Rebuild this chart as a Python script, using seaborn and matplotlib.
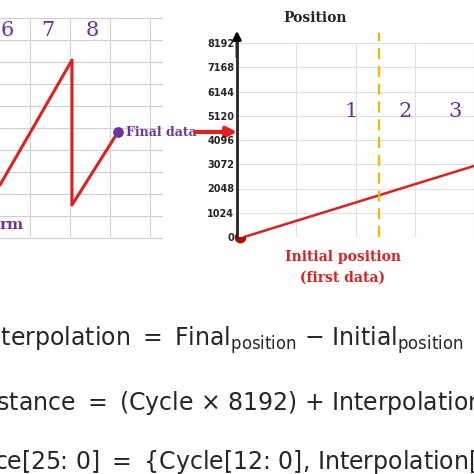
import matplotlib
matplotlib.use("Agg")
import matplotlib.pyplot as plt
import seaborn as sns
import numpy as np

sns.set_style("white")
plt.rcParams['font.family'] = ['DejaVu Serif']

# left sawtooth (pixel coords)
saw_x = [0, 72, 72, 118]
saw_y = [185, 60, 205, 132]
cycle_labels = ["6", "7", "8"]
cycle_x = [7, 48, 92]
# right chart
yticks = [0, 1024, 2048, 3072, 4096, 5120, 6144, 7168, 8192]
pos_x = [0.3, 10]
pos_y = [0, 3000]
region_labels = ["1", "2", "3"]
region_x = [4.8, 7.1, 9.2]

W = 474
fig = plt.figure(figsize=(4.74, 4.74), dpi=100)
ax = fig.add_axes([0, 0, 1, 1])
ax.set_xlim(0, W); ax.set_ylim(W, 0); ax.axis("off")

purple = "#7030A0"; red = "#E02020"
for gx in np.arange(-10, 170, 40):
    ax.plot([gx, gx], [18, 236], color="#d0d0d0", lw=0.8)
for gy in np.arange(18, 240, 22):
    ax.plot([-5, 162], [gy, gy], color="#d0d0d0", lw=0.8)
sns.lineplot(x=saw_x, y=saw_y, ax=ax, color=red, lw=2.2, sort=False, estimator=None)
ax.scatter([118], [132], color=purple, s=45, zorder=5)
ax.text(126, 132, "Final data", color=purple, fontsize=9, fontweight="bold", va="center")
for t, x in zip(cycle_labels, cycle_x):
    ax.text(x, 30, t, color=purple, fontsize=15, ha="center", va="center")
ax.text(0, 225, "rm", color=purple, fontsize=11, fontweight="bold", va="center")
ax.annotate("", xy=(240, 132), xytext=(193, 132),
            arrowprops=dict(arrowstyle="-|>", color=red, lw=3, mutation_scale=15))

rax = fig.add_axes([237/W, 1-237/W, (W-237)/W, (237-43)/W])
rax.set_xlim(0, 10); rax.set_ylim(0, 8192)
for y in yticks:
    rax.axhline(y, color="#e0e0e0", lw=0.8, zorder=0)
for x in np.arange(0, 11, 2.5):
    rax.axvline(x, color="#e0e0e0", lw=0.8, zorder=0)
sns.lineplot(x=pos_x, y=pos_y, ax=rax, color=red, lw=1.8)
rax.axvline(6.0, color="#F5B800", ls=(0, (5, 3)), lw=1.6, ymax=1.05, clip_on=False)
rax.set_yticks(yticks)
rax.set_yticklabels([str(v) for v in yticks], fontsize=7, fontweight="bold", fontfamily="DejaVu Sans")
rax.set_xticks([])
for s in ["top", "right", "bottom"]:
    rax.spines[s].set_visible(False)
rax.spines["left"].set_linewidth(2)
rax.tick_params(axis="y", length=0, pad=2)
for t, x in zip(region_labels, region_x):
    rax.text(x, 5300, t, color=purple, fontsize=15, ha="center", va="center")
ax.annotate("", xy=(237, 28), xytext=(237, 60),
            arrowprops=dict(arrowstyle="-|>", color="black", lw=2, mutation_scale=12))
ax.text(283, 18, "Position", fontsize=10, fontweight="bold", ha="left", va="center")
ax.scatter([240], [237], color="#C00000", s=55, zorder=6, clip_on=False)
ax.text(343, 257, "Initial position", color=red, fontsize=10, fontweight="bold", ha="center", va="center")
ax.text(343, 278, "(first data)", color=red, fontsize=10, fontweight="bold", ha="center", va="center")

fs = 17
ax.text(-14, 340, r"nterpolation $=$ Final$_{\mathrm{position}}$ $-$ Initial$_{\mathrm{position}}$",
        fontsize=fs, va="center", fontfamily="DejaVu Sans")
ax.text(-10, 403, r"istance $=$ (Cycle $\times$ 8192) $+$ Interpolation",
        fontsize=fs, va="center", fontfamily="DejaVu Sans")
ax.text(-6, 462, r"ce[25: 0] $=$ {Cycle[12: 0], Interpolation[12: 0]}",
        fontsize=fs, va="center", fontfamily="DejaVu Sans")

fig.savefig("out.png", dpi=100)
